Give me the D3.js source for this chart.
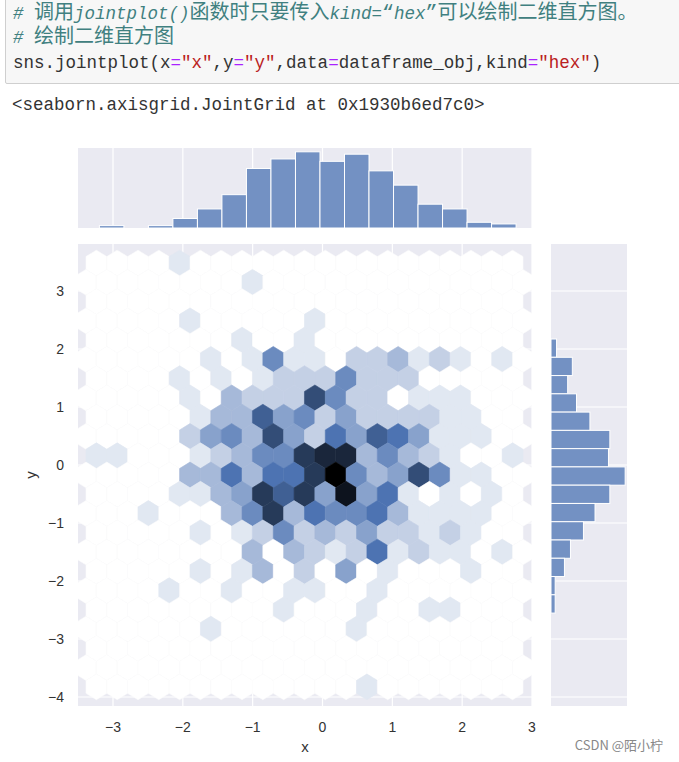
<!DOCTYPE html>
<html>
<head>
<meta charset="utf-8">
<title>jointplot hex</title>
<script src="https://cdn.jsdelivr.net/npm/d3@7"></script>
<style>
  body { margin: 0; background: #fff; width: 679px; height: 762px; overflow: hidden; }
  #cell {
    position: absolute; left: 5px; top: -2px; width: 680px; height: 84px;
    background: #f7f7f7; border: 1px solid #cfcfcf; border-radius: 2px;
  }
  .code { position: absolute; left: 7px; font-family: "Liberation Mono", "Noto Sans CJK SC", monospace; font-size: 17.5px; line-height: 22px; height: 22px; white-space: pre; color: #333; }
  .cm { color: #408080; font-style: italic; }
  .cj { font-size: 20px; font-style: normal; line-height: 22px; }
  .op { color: #aa22ff; }
  .st { color: #ba2121; }
  #out { position: absolute; left: 12px; top: 95px; font-family: "Liberation Mono", monospace; font-size: 17.5px; color: #333; white-space: pre; }
  #chart { position: absolute; left: 0; top: 0; }
</style>
</head>
<body>
<div id="cell">
  <div class="code cm" style="top:4px"># <span class="cj">调用</span>jointplot()<span class="cj">函数时只要传入</span>kind=<span class="cj">“</span>hex<span class="cj">”可以绘制二维直方图。</span></div>
  <div class="code cm" style="top:28px"># <span class="cj">绘制二维直方图</span></div>
  <div class="code" style="top:53px">sns.jointplot(x<span class="op">=</span><span class="st">"x"</span>,y<span class="op">=</span><span class="st">"y"</span>,data<span class="op">=</span>dataframe_obj,kind<span class="op">=</span><span class="st">"hex"</span>)</div>
</div>
<div id="out">&lt;seaborn.axisgrid.JointGrid at 0x1930b6ed7c0&gt;</div>
<svg id="chart" width="679" height="762"></svg>
<script>
// tick values
var xTicks = [-3, -2, -1, 0, 1, 2, 3];
var yTicks = [-4, -3, -2, -1, 0, 1, 2, 3];

// top marginal histogram (x)
var xBinStart = -3.195, xBinWidth = 0.351;
var xCounts = [1, 0, 1, 4, 8, 14, 25, 29, 32, 28, 31, 24, 18, 10, 8, 2.4, 1.7];

// right marginal histogram (y), listed from top bin downwards
var yBinTop = 2.172, yBinWidth = 0.315;
var yCounts = [1.2, 4.6, 3.6, 5.5, 8.4, 12.7, 12.4, 16, 12.7, 9.5, 7, 4.2, 2.9, 0.9, 0.9];

// hex grid: first centre and spacing in data units, 23 rows
var hexX0 = -3.238, hexDX = 0.298, hexY0 = 3.483, hexDY = 0.3322, hexRows = 23;
var hexMax = 12;
// non-empty hex cells: [row, col, count]
var hexCounts = [
  [0,4,1],[1,8,1],[3,5,1],[3,11,1],[4,7,1],[4,10,1],
  [5,6,1],[5,8,1],[5,9,5],[5,10,1],[5,11,1],[5,13,2],[5,14,2],[5,15,3],[5,16,1],[5,17,2],[5,18,1],[5,20,1],
  [6,4,1],[6,6,1],[6,8,1],[6,9,2],[6,10,2],[6,11,2],[6,12,5],[6,13,2],[6,14,2],[6,15,2],
  [7,5,1],[7,7,3],[7,8,2],[7,9,2],[7,10,2],[7,11,8],[7,12,5],[7,13,2],[7,14,2],[7,16,1],[7,17,1],[7,18,1],
  [8,5,1],[8,6,3],[8,7,3],[8,8,7],[8,9,4],[8,10,5],[8,11,2],[8,12,4],[8,13,2],[8,14,2],[8,15,2],[8,16,2],[8,17,1],[8,18,1],
  [9,5,2],[9,6,4],[9,7,5],[9,8,3],[9,9,8],[9,10,4],[9,11,2],[9,12,6],[9,13,4],[9,14,7],[9,15,6],[9,16,4],[9,17,1],[9,18,1],[9,19,1],
  [10,0,1],[10,1,1],[10,5,1],[10,6,2],[10,7,3],[10,8,5],[10,9,5],[10,10,9],[10,11,10],[10,12,10],[10,13,3],[10,14,5],[10,15,3],[10,16,2],[10,17,1],[10,20,1],
  [11,5,3],[11,6,3],[11,7,6],[11,8,3],[11,9,6],[11,10,6],[11,11,9],[11,12,12],[11,13,5],[11,14,3],[11,15,4],[11,16,8],[11,17,5],[11,18,1],[11,19,1],
  [12,4,1],[12,5,1],[12,6,3],[12,7,4],[12,8,9],[12,9,7],[12,10,9],[12,11,4],[12,12,11],[12,13,4],[12,14,6],[12,15,1],[12,17,1],[12,19,1],
  [13,3,1],[13,7,3],[13,8,5],[13,9,9],[13,10,3],[13,11,6],[13,12,5],[13,13,5],[13,14,6],[13,15,3],[13,16,1],[13,17,1],[13,18,1],[13,19,1],
  [14,5,1],[14,7,1],[14,8,2],[14,9,5],[14,10,2],[14,11,3],[14,12,2],[14,13,4],[14,14,2],[14,15,2],[14,16,1],[14,17,2],[14,18,1],
  [15,8,3],[15,10,3],[15,11,2],[15,12,1],[15,13,2],[15,14,6],[15,15,1],[15,16,2],[15,17,1],[15,18,1],[15,20,1],
  [16,5,1],[16,7,1],[16,8,3],[16,10,2],[16,12,4],[16,14,1],[16,18,1],
  [17,4,1],[17,7,1],[17,10,1],[17,11,1],[17,14,1],
  [18,9,1],[18,13,1],[18,16,1],[18,17,1],
  [19,6,1],[19,13,1],
  [22,13,1]
];

var svg = d3.select("#chart");
var bg = "#eaeaf2", barFill = "#7391c3";
var jl = 78, jr = 532, jt = 244, jb = 706;

var x = d3.scaleLinear().domain([-3, 3]).range([113, 532]);
var y = d3.scaleLinear().domain([0, 3]).range([465, 291]);

// ---- joint axes
var joint = svg.append("g");
joint.append("rect").attr("x", jl).attr("y", jt).attr("width", jr - jl).attr("height", jb - jt).attr("fill", bg);
joint.selectAll(".gx").data(xTicks).enter().append("line")
  .attr("x1", d => x(d)).attr("x2", d => x(d)).attr("y1", jt).attr("y2", jb)
  .attr("stroke", "#fff").attr("stroke-width", 1.2);
joint.selectAll(".gy").data(yTicks).enter().append("line")
  .attr("y1", d => y(d)).attr("y2", d => y(d)).attr("x1", jl).attr("x2", jr)
  .attr("stroke", "#fff").attr("stroke-width", 1.2);

svg.append("clipPath").attr("id", "jc").append("rect")
  .attr("x", jl).attr("y", jt).attr("width", jr - jl).attr("height", jb - jt);

var base = d3.hsl("#4c72b0");
function hexColor(n) {
  if (!n) return "#ffffff";
  var c = d3.hsl(base.h, base.s, 1 - n / hexMax);
  return c.formatHex();
}
var lookup = {};
hexCounts.forEach(function(d) { lookup[d[0] + "_" + d[1]] = d[2]; });
var cells = [];
for (var r = 0; r < hexRows; r++) {
  var odd = r % 2 == 1;
  var nc = odd ? 22 : 21;
  for (var c = 0; c < nc; c++) {
    var cx = hexX0 + hexDX * c - (odd ? hexDX / 2 : 0);
    var cy = hexY0 - hexDY * r;
    cells.push({ x: cx, y: cy, n: lookup[r + "_" + c] || 0 });
  }
}
var hw = (x(hexDX) - x(0)) / 2, hh = (y(0) - y(hexDY)) * 2 / 3;
function hexPath(px, py) {
  return "M" + px + "," + (py - hh) + "L" + (px + hw) + "," + (py - hh / 2) +
    "L" + (px + hw) + "," + (py + hh / 2) + "L" + px + "," + (py + hh) +
    "L" + (px - hw) + "," + (py + hh / 2) + "L" + (px - hw) + "," + (py - hh / 2) + "Z";
}
joint.append("g").attr("clip-path", "url(#jc)").selectAll("path").data(cells).enter().append("path")
  .attr("d", d => hexPath(x(d.x), y(d.y)))
  .attr("fill", d => hexColor(d.n))
  .attr("stroke", d => d.n ? hexColor(d.n) : "#fbfbfc").attr("stroke-width", 0.6);

var tickFont = "Liberation Sans, Arial, sans-serif";
joint.selectAll(".tx").data(xTicks).enter().append("text")
  .attr("x", d => x(d)).attr("y", 732).attr("text-anchor", "middle")
  .attr("font-family", tickFont).attr("font-size", 14).attr("fill", "#333")
  .text(d => d < 0 ? "\u2212" + (-d) : d);
joint.selectAll(".ty").data(yTicks).enter().append("text")
  .attr("x", 64).attr("y", d => y(d) + 5).attr("text-anchor", "end")
  .attr("font-family", tickFont).attr("font-size", 14).attr("fill", "#333")
  .text(d => d < 0 ? "\u2212" + (-d) : d);
svg.append("text").attr("x", 305).attr("y", 752).attr("text-anchor", "middle")
  .attr("font-family", tickFont).attr("font-size", 15).attr("fill", "#333").text("x");
svg.append("text").attr("transform", "translate(36,475) rotate(-90)").attr("text-anchor", "middle")
  .attr("font-family", tickFont).attr("font-size", 15).attr("fill", "#333").text("y");

// ---- top histogram
var tt = 148, tb = 228;
var hy = d3.scaleLinear().domain([0, 33.6]).range([tb, tt]);
var topHist = svg.append("g");
topHist.append("rect").attr("x", jl).attr("y", tt).attr("width", jr - jl).attr("height", tb - tt).attr("fill", bg);
topHist.selectAll("line").data(xTicks).enter().append("line")
  .attr("x1", d => x(d)).attr("x2", d => x(d)).attr("y1", tt).attr("y2", tb)
  .attr("stroke", "#fff").attr("stroke-width", 1.2);
topHist.selectAll(".bar").data(xCounts).enter().append("rect")
  .attr("x", (d, i) => x(xBinStart + i * xBinWidth))
  .attr("width", x(xBinWidth) - x(0))
  .attr("y", d => hy(d)).attr("height", d => tb - hy(d))
  .attr("fill", barFill).attr("stroke", "#fff").attr("stroke-width", 1)
  .attr("display", d => d ? null : "none");

// ---- right histogram
var rl = 551, rr = 627;
var hx = d3.scaleLinear().domain([0, 16.4]).range([rl, rr]);
var rightHist = svg.append("g");
rightHist.append("rect").attr("x", rl).attr("y", jt).attr("width", rr - rl).attr("height", jb - jt).attr("fill", bg);
rightHist.selectAll("line").data(yTicks).enter().append("line")
  .attr("y1", d => y(d)).attr("y2", d => y(d)).attr("x1", rl).attr("x2", rr)
  .attr("stroke", "#fff").attr("stroke-width", 1.2);
rightHist.selectAll(".bar").data(yCounts).enter().append("rect")
  .attr("x", rl)
  .attr("y", (d, i) => y(yBinTop - i * yBinWidth))
  .attr("height", y(0) - y(yBinWidth))
  .attr("width", d => hx(d) - rl)
  .attr("fill", barFill).attr("stroke", "#fff").attr("stroke-width", 1);

svg.append("text").attr("x", 663).attr("y", 750).attr("text-anchor", "end")
  .attr("font-family", "Noto Sans CJK SC, sans-serif").attr("font-size", 13).attr("fill", "#888")
  .text("CSDN @陌小柠");
</script>
</body>
</html>
